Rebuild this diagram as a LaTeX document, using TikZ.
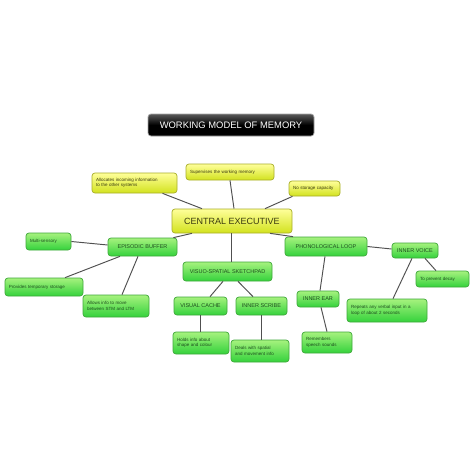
\documentclass[tikz,border=0pt]{standalone}
\usepackage{fontspec}
\setmainfont{Liberation Sans}
\usetikzlibrary{calc}
\definecolor{gtop}{HTML}{A6F27E}
\definecolor{gbot}{HTML}{34D23C}
\definecolor{gedge}{HTML}{3FA83A}
\definecolor{gtext}{HTML}{1E4E1E}
\definecolor{ytop}{HTML}{FFFF9A}
\definecolor{ybot}{HTML}{D2E21E}
\definecolor{yedge}{HTML}{A8AE2A}
\definecolor{ytext}{HTML}{3A3A10}
\definecolor{linec}{HTML}{505050}
\tikzset{
  x=1pt, y=-1pt,
  base/.style={rounded corners=3pt, inner sep=0pt, line width=0.7pt},
  gbox/.style={base, draw=gedge, top color=gtop, bottom color=gbot, text=gtext},
  ybox/.style={base, draw=yedge, top color=ytop, bottom color=ybot, text=ytext},
  small/.style={font=\fontsize{4.5}{5.6}\selectfont, align=left},
  caps/.style={font=\fontsize{5.5}{6.5}\selectfont, align=center},
  sz/.style 2 args={minimum width=#1pt, minimum height=#2pt, text width=#1pt-8pt},
  conn/.style={draw=linec, line width=0.95pt},
}
\begin{document}
\begin{tikzpicture}
\useasboundingbox (0,0) rectangle (474,474);
\fill[white] (0,0) rectangle (474,474);
% title
\node[base, draw=gray!70, top color=black!65, bottom color=black, middle color=black,
      text=white, minimum width=166pt, minimum height=22pt,
      font=\fontsize{9.4}{11}\selectfont] (title) at (231,125) {WORKING MODEL OF MEMORY};
% yellow
\node[ybox, minimum width=120pt, minimum height=24pt, font=\fontsize{9}{10}\selectfont] (ce) at (232,221) {CENTRAL EXECUTIVE};
\node[ybox, small, sz={85}{20}] (alloc) at (134.5,183) {Allocates incoming information\\to the other systems};
\node[ybox, small, sz={88}{16}] (superv) at (230,172) {Supervises the working memory};
\node[ybox, small, sz={51}{15}] (nostor) at (314.5,188.5) {No storage capacity};
% green
\node[gbox, caps, minimum width=69pt, minimum height=18pt] (eb) at (142.5,247) {EPISODIC BUFFER};
\node[gbox, small, sz={45}{17}] (multi) at (48.5,241.5) {Multi-sensory};
\node[gbox, small, sz={78}{18}] (prov) at (44,287) {Provides temporary storage};
\node[gbox, small, sz={66}{22}] (allows) at (116,306) {Allows info to move\\between STM and LTM};
\node[gbox, caps, minimum width=89pt, minimum height=19pt] (vss) at (227.5,271.5) {VISUO-SPATIAL SKETCHPAD};
\node[gbox, caps, minimum width=53pt, minimum height=18pt] (vc) at (200.5,306) {VISUAL CACHE};
\node[gbox, caps, minimum width=51pt, minimum height=18pt] (is) at (261.5,306) {INNER SCRIBE};
\node[gbox, small, sz={56}{22}] (holds) at (201,343) {Holds info about\\shape and colour};
\node[gbox, small, sz={58}{22}] (deals) at (260,351) {Deals with spatial\\and movement info};
\node[gbox, caps, minimum width=82pt, minimum height=19pt] (pl) at (326,246.5) {PHONOLOGICAL LOOP};
\node[gbox, caps, minimum width=46pt, minimum height=15pt] (iv) at (415,250.5) {INNER VOICE};
\node[gbox, small, sz={53}{16}] (prev) at (442.5,279) {To prevent decay};
\node[gbox, small, sz={80}{23}] (rep) at (387,310.5) {Repeats any verbal input in a\\loop of about 2 seconds};
\node[gbox, caps, minimum width=42pt, minimum height=16pt] (ie) at (318,299) {INNER EAR};
\node[gbox, small, sz={50}{21}] (rem) at (327,342.5) {Remembers\\speech sounds};
% connectors
\draw[conn] ([xshift=28pt]alloc.south) -- ([xshift=-30pt]ce.north);
\draw[conn] (superv.south) -- ([xshift=2pt]ce.north);
\draw[conn] ([xshift=-22pt]nostor.south) -- ([xshift=33pt]ce.north);
\draw[conn] ([xshift=-4pt]eb.north east) -- ([xshift=-40pt]ce.south);
\draw[conn] ([xshift=-1pt]ce.south) -- ([xshift=3.5pt]vss.north);
\draw[conn] ([xshift=38pt]ce.south) -- ([xshift=-33pt]pl.north);
\draw[conn] (multi.east) -- ([yshift=2pt]eb.west);
\draw[conn] ([xshift=21pt]prov.north) -- ([xshift=-22.5pt]eb.south);
\draw[conn] ([xshift=6pt]allows.north) -- ([xshift=-4.5pt]eb.south);
\draw[conn] ([xshift=-4.5pt]vss.south) -- ([xshift=9.5pt]vc.north);
\draw[conn] ([xshift=10.5pt]vss.south) -- ([xshift=-8.5pt]is.north);
\draw[conn] (vc.south) -- (vc.south |- holds.north);
\draw[conn] (is.south) -- (is.south |- deals.north);
\draw[conn] (pl.east) -- ([yshift=1.5pt]iv.west);
\draw[conn] ([xshift=10pt]iv.south) -- ([xshift=-6.5pt]prev.north);
\draw[conn] ([xshift=-3pt]iv.south) -- ([xshift=6pt]rep.north);
\draw[conn] ([xshift=-1pt]pl.south) -- ([xshift=2pt]ie.north);
\draw[conn] ([xshift=3pt]ie.south) -- (rem.north);
\end{tikzpicture}
\end{document}
